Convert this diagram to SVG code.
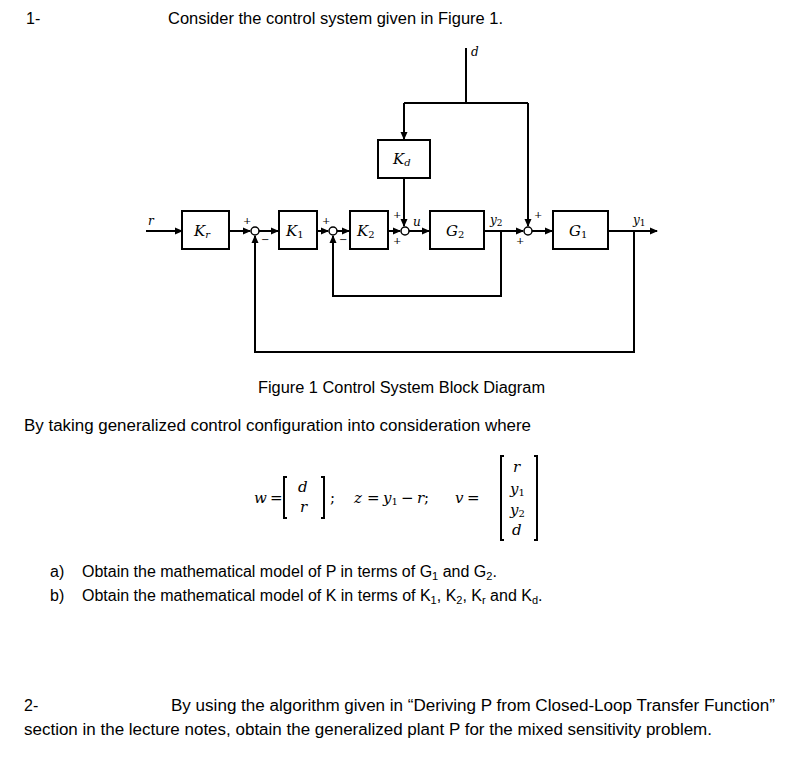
<svg xmlns="http://www.w3.org/2000/svg" width="812" height="758" viewBox="0 0 812 758">
<defs><marker id="a" markerWidth="8" markerHeight="8" refX="7" refY="4" orient="auto" markerUnits="userSpaceOnUse"><path d="M0,0.5 L8,4 L0,7.5 z" fill="#000"/></marker></defs>
<style>
.t{font-family:"Liberation Sans",sans-serif;font-size:16px;fill:#000}
.m{font-family:"DejaVu Serif","Liberation Serif",serif;font-style:italic;font-size:15px}
.s{font-family:"DejaVu Serif","Liberation Serif",serif;font-size:10px}
.e{font-family:"DejaVu Serif","Liberation Serif",serif;font-size:15px}
.i{font-style:italic}
.b{fill:#fff;stroke:#000;stroke-width:2}
.l{fill:none;stroke:#000;stroke-width:2}
.c{fill:#fff;stroke:#000;stroke-width:1.5}
</style>
<rect width="812" height="758" fill="#fff"/>
<text class="t" x="26" y="24">1-</text>
<text class="t" x="168" y="24" textLength="335" lengthAdjust="spacingAndGlyphs">Consider the control system given in Figure 1.</text>
<g id="connectors">
<path class="l" d="M146,231 H182" marker-end="url(#a)"/>
<path class="l" d="M229,231 H250" marker-end="url(#a)"/>
<path class="l" d="M259,231 H278" marker-end="url(#a)"/>
<path class="l" d="M317,231 H328" marker-end="url(#a)"/>
<path class="l" d="M337,231 H349" marker-end="url(#a)"/>
<path class="l" d="M388,231 H400" marker-end="url(#a)"/>
<path class="l" d="M409,231 H429" marker-end="url(#a)"/>
<path class="l" d="M484,231 H523" marker-end="url(#a)"/>
<path class="l" d="M532,231 H552" marker-end="url(#a)"/>
<path class="l" d="M608,231 H657" marker-end="url(#a)"/>
<path class="l" d="M466,48 V103"/>
<path class="l" d="M404,103 H528"/>
<path class="l" d="M404,103 V139" marker-end="url(#a)"/>
<path class="l" d="M528,103 V226" marker-end="url(#a)"/>
<path class="l" d="M404,178 V226" marker-end="url(#a)"/>
<path class="l" d="M501,231 V296 H333 V236" marker-end="url(#a)"/>
<path class="l" d="M634,231 V352 H255 V236" marker-end="url(#a)"/>
</g>
<g id="Kr"><rect class="b" x="182" y="211" width="47" height="38"/><text class="m" x="194" y="236">K<tspan class="s i" dy="2">r</tspan></text></g>
<g id="K1"><rect class="b" x="279" y="211" width="38" height="38"/><text class="m" x="286" y="236">K<tspan class="s" dy="2" font-style="normal">1</tspan></text></g>
<g id="K2"><rect class="b" x="350" y="211" width="38" height="38"/><text class="m" x="357" y="236">K<tspan class="s" dy="2" font-style="normal">2</tspan></text></g>
<g id="G2"><rect class="b" x="430" y="211" width="54" height="38"/><text class="m" x="446" y="236">G<tspan class="s" dy="2" font-style="normal">2</tspan></text></g>
<g id="G1"><rect class="b" x="553" y="211" width="55" height="38"/><text class="m" x="569" y="236">G<tspan class="s" dy="2" font-style="normal">1</tspan></text></g>
<g id="Kd"><rect class="b" x="378" y="140" width="52" height="38"/><text class="m" x="393" y="164">K<tspan class="s i" dy="2">d</tspan></text></g>
<g id="sum1"><circle class="c" cx="255" cy="231" r="4"/><text class="s" x="243" y="224">+</text><text class="s" x="261" y="243">−</text></g>
<g id="sum2"><circle class="c" cx="333" cy="231" r="4"/><text class="s" x="322" y="224">+</text><text class="s" x="339" y="243">−</text></g>
<g id="sum3"><circle class="c" cx="405" cy="231" r="4"/><text class="s" x="393" y="218">+</text><text class="s" x="393" y="244">+</text></g>
<g id="sum4"><circle class="c" cx="528" cy="231" r="4"/><text class="s" x="534" y="218">+</text><text class="s" x="516" y="244">+</text></g>
<g id="labels">
<text class="m" x="148" y="225" style="font-size:12px">r</text>
<text class="m" x="471" y="56" style="font-size:12px">d</text>
<text class="m" x="413" y="226" style="font-size:12px">u</text>
<text class="m" x="490" y="224" style="font-size:12px">y<tspan class="s" style="font-size:9px;font-style:normal" dy="2">2</tspan></text>
<text class="m" x="633" y="224" style="font-size:12px">y<tspan class="s" style="font-size:9px;font-style:normal" dy="2">1</tspan></text>
</g>
<text class="t" x="258" y="393" textLength="287" lengthAdjust="spacingAndGlyphs">Figure 1 Control System Block Diagram</text>
<text class="t" x="24" y="431" textLength="507" lengthAdjust="spacingAndGlyphs">By taking generalized control configuration into consideration where</text>
<g id="eq">
<text class="e i" x="254" y="503">w</text><text class="e" x="270" y="503">=</text>
<path class="l" stroke-width="1" d="M287,477 h-3 v41 h3 M321,477 h3 v41 h-3"/>
<text class="e i" x="298" y="492">d</text><text class="e i" x="300" y="512">r</text>
<text class="e" x="330" y="503">;</text>
<text class="e i" x="354" y="503">z</text><text class="e" x="367" y="503">=</text>
<text class="e i" x="383" y="503">y<tspan style="font-size:10px;font-style:normal" dy="2">1</tspan></text><text class="e" x="401" y="503">−</text>
<text class="e i" x="417" y="503">r</text><text class="e" x="424" y="503">;</text>
<text class="e i" x="455" y="503">v</text><text class="e" x="467" y="503">=</text>
<path class="l" stroke-width="1" d="M504,456 h-3 v84 h3 M534,456 h3 v84 h-3"/>
<text class="e i" x="513" y="472">r</text>
<text class="e i" x="510" y="494">y<tspan style="font-size:10px;font-style:normal" dy="2">1</tspan></text>
<text class="e i" x="510" y="515">y<tspan style="font-size:10px;font-style:normal" dy="2">2</tspan></text>
<text class="e i" x="512" y="535">d</text>
</g>
<text class="t" x="50" y="577">a)</text><text class="t" x="82" y="577">Obtain the mathematical model of P in terms of G<tspan font-size="11" dy="3">1</tspan><tspan dy="-3"> and G</tspan><tspan font-size="11" dy="3">2</tspan><tspan dy="-3">.</tspan></text>
<text class="t" x="50" y="601">b)</text><text class="t" x="82" y="601">Obtain the mathematical model of K in terms of K<tspan font-size="11" dy="3">1</tspan><tspan dy="-3">, K</tspan><tspan font-size="11" dy="3">2</tspan><tspan dy="-3">, K</tspan><tspan font-size="11" dy="3">r</tspan><tspan dy="-3"> and K</tspan><tspan font-size="11" dy="3">d</tspan><tspan dy="-3">.</tspan></text>
<text class="t" x="24" y="711">2-</text>
<text class="t" x="171" y="711" textLength="604" lengthAdjust="spacingAndGlyphs">By using the algorithm given in “Deriving P from Closed-Loop Transfer Function”</text>
<text class="t" x="24" y="735" textLength="688" lengthAdjust="spacingAndGlyphs">section in the lecture notes, obtain the generalized plant P for the mixed sensitivity problem.</text>
</svg>
